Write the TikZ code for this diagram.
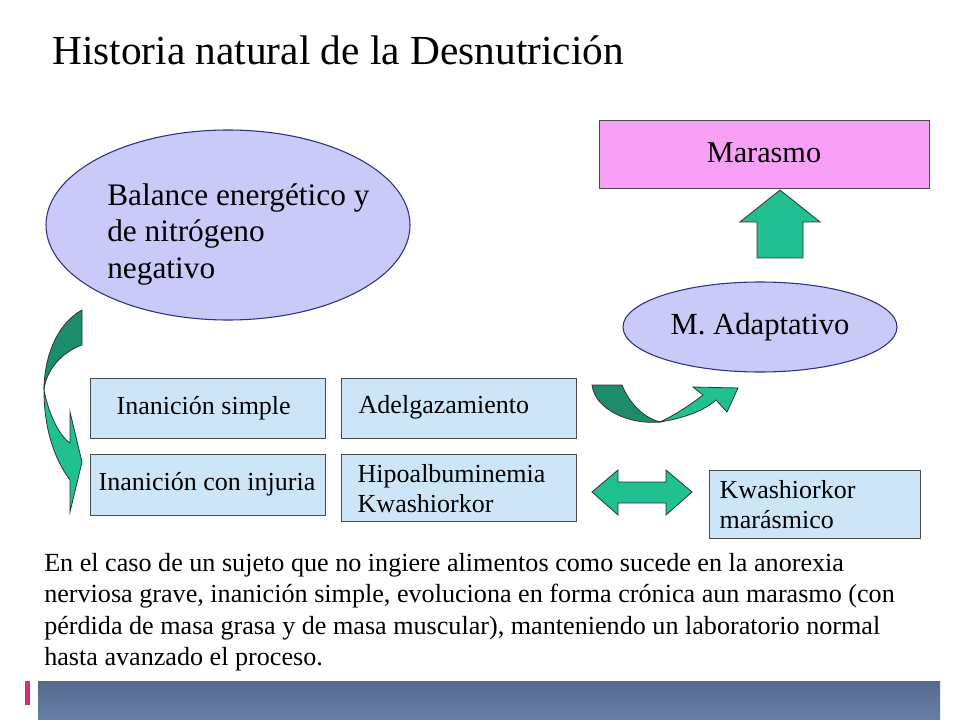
\documentclass[tikz,border=0pt]{standalone}
\usepackage{fontspec}
\setmainfont{Liberation Serif}
\begin{document}
\begin{tikzpicture}[x=0.75pt,y=-0.75pt,
  box/.style={draw=black!70,fill=blueL,line width=0.6pt},
  ell/.style={draw=ellB,fill=lav,line width=0.8pt},
  garrow/.style={draw=black!80,fill=gLight,line width=0.6pt},
  btxt/.style={font=\fontsize{19.5}{22.5}\selectfont,align=left,anchor=west}]
\definecolor{blueL}{HTML}{CCE6F8}
\definecolor{lav}{HTML}{CACAF8}
\definecolor{ellB}{HTML}{303080}
\definecolor{pinkB}{HTML}{F8A0F6}
\definecolor{gLight}{HTML}{20C090}
\definecolor{gDark}{HTML}{1C8C6C}
\definecolor{barA}{HTML}{56698A}
\definecolor{barB}{HTML}{6880A8}
\definecolor{magB}{HTML}{D0307A}
\useasboundingbox (0,0) rectangle (960,720);
\fill[white] (0,0) rectangle (960,720);
% title
\node[anchor=base west,font=\fontsize{31}{34}\selectfont,inner sep=0] (title) at (52,65) {Historia natural de la Desnutrición};
% big ellipse
\draw[ell] (228,225) ellipse [x radius=182,y radius=95];
\node[anchor=north west,align=left,inner sep=0,font=\fontsize{23.5}{27.5}\selectfont] (bal) at (107,183) {Balance energético y\\de nitrógeno\\negativo};
% Marasmo
\node[draw=black!70,fill=pinkB,line width=0.6pt,minimum width=330*0.75pt,minimum height=68*0.75pt,inner sep=0] (mar) at (764,154) {};
\node[font=\fontsize{22.7}{25}\selectfont] at (764,153) {Marasmo};
% up arrow
\draw[garrow] (757,258) -- (757,222) -- (740,222) -- (780,190) -- (820,222) -- (803,222) -- (803,258) -- cycle;
% M. Adaptativo
\draw[ell] (760,327) ellipse [x radius=137,y radius=45];
\node[font=\fontsize{23}{25}\selectfont] (mad) at (760,327) {M. Adaptativo};
% boxes
\draw[box] (90,378) rectangle (325,438);
\node[btxt] (b1) at (112,408) {Inanición simple};
\draw[box] (341,378) rectangle (576,438);
\node[btxt] (b2) at (354,407) {Adelgazamiento};
\draw[box] (90,454) rectangle (325,515);
\node[btxt] (b3) at (94,484) {Inanición con injuria};
\draw[box] (341,454) rectangle (576,521);
\node[btxt] (b4) at (353,489) {Hipoalbuminemia\\Kwashiorkor};
\draw[box] (709,470) rectangle (920,538);
\node[btxt] (b5) at (715,505) {Kwashiorkor\\marásmico};
% double arrow
\draw[garrow] (592,492) -- (618,470) -- (618,482) -- (666,482) -- (666,470) -- (692,492) -- (666,515) -- (666,503) -- (618,503) -- (618,515) -- cycle;
% left curved arrow
\draw[fill=gDark,draw=black!80,line width=0.6pt] (82,310) -- (82,345) .. controls (62,352) and (46,370) .. (44,390) .. controls (44,360) and (55,325) .. cycle;
\draw[fill=gLight,draw=black!80,line width=0.6pt] (44,390) .. controls (50,420) and (62,438) .. (70,443) -- (70,412) -- (82,462) -- (70,512) -- (70,480) .. controls (55,460) and (44,430) .. cycle;
% right U arrow
\draw[fill=gDark,draw=black!80,line width=0.6pt] (592,385) -- (622,385) .. controls (630,405) and (645,418) .. (660,422) .. controls (630,425) and (595,410) .. cycle;
\draw[fill=gLight,draw=black!80,line width=0.6pt] (660,422) .. controls (685,418) and (705,410) .. (716,400) -- (727,412) -- (738,388) -- (693,387) -- (703,395) .. controls (690,405) and (675,415) .. cycle;
% paragraph
\node[anchor=north west,align=left,inner sep=0,font=\fontsize{19.6}{23.5}\selectfont] (para) at (44,553) {En el caso de un sujeto que no ingiere alimentos como sucede en la anorexia\\nerviosa grave, inanición simple, evoluciona en forma crónica aun marasmo (con\\pérdida de masa grasa y de masa muscular), manteniendo un laboratorio normal\\hasta avanzado el proceso.};
% bottom bar
\shade[top color=barA,bottom color=barB] (38,681) rectangle (940,720);
\fill[magB] (25,681) rectangle (30,705);
\end{tikzpicture}
\end{document}
